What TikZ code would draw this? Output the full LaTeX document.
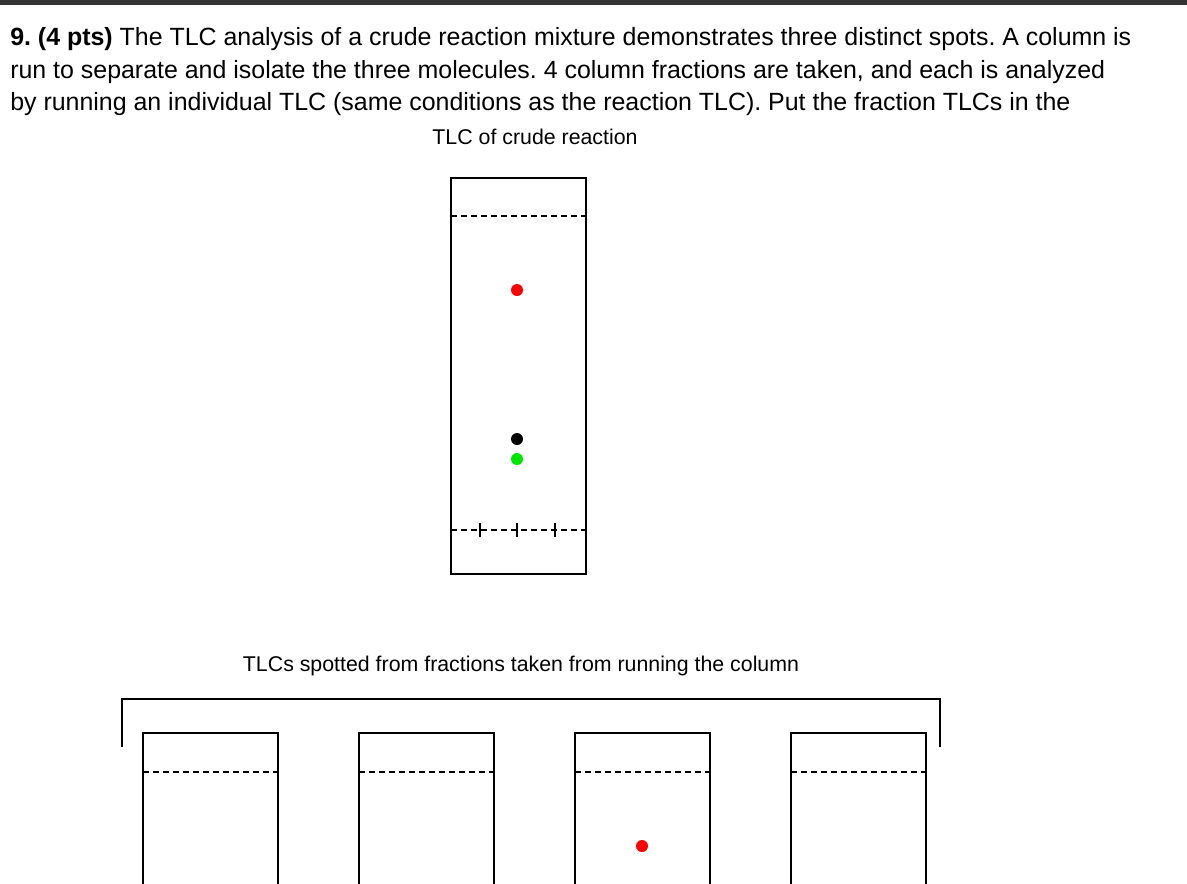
\documentclass[tikz,border=0pt]{standalone}
\usepackage{fontspec}
\setmainfont{Liberation Sans}
\frenchspacing
\begin{document}
\begin{tikzpicture}[x=0.75pt,y=-0.75pt,
  plate/.style={line width=1.5pt},
  dline/.style={line width=1.2pt,dash pattern=on 4.5pt off 3pt},
  spot/.style={circle,inner sep=0pt,minimum size=9pt},
  txt/.style={anchor=base west,inner sep=0pt,font=\fontsize{18.7}{22}\selectfont},
  lab/.style={anchor=base,inner sep=0pt,font=\fontsize{16}{19}\selectfont}]
\useasboundingbox (0,0) rectangle (1187,883);
\fill[black!80] (0,0) rectangle (1187,5);
\node[txt] (l1) at (10,45) {\textbf{9. (4 pts)} The TLC analysis of a crude reaction mixture demonstrates three distinct spots. A column is};
\node[txt] (l2) at (10,78) {run to separate and isolate the three molecules. 4 column fractions are taken, and each is analyzed};
\node[txt] (l3) at (10,110) {by running an individual TLC (same conditions as the reaction TLC). Put the fraction TLCs in the};
\node[lab] (t1) at (535,144) {TLC of crude reaction};
\node[lab] (t2) at (521,671) {TLCs spotted from fractions taken from running the column};
% main plate
\draw[plate] (451,178) rectangle (586,574);
\draw[dline] (451,216) -- (586,216);
\draw[dline] (451,530) -- (586,530);
\foreach \x in {480,517,555} \draw[line width=1.5pt] (\x,523) -- (\x,537);
\node[spot,fill=red] (r) at (517,290) {};
\node[spot,fill=black] (k) at (517,439) {};
\node[spot,fill={rgb,255:red,0;green,230;blue,0}] (g) at (517,459) {};
% bracket
\draw[plate] (122,747) -- (122,699) -- (940,699) -- (940,747);
\foreach \x in {143,359,575,791}{
  \draw[plate] (\x,885) -- (\x,733) -- (\x+135,733) -- (\x+135,885);
  \draw[dline] (\x,772) -- (\x+135,772);
}
\node[spot,fill=red] (r2) at (642,846) {};
\end{tikzpicture}
\end{document}
